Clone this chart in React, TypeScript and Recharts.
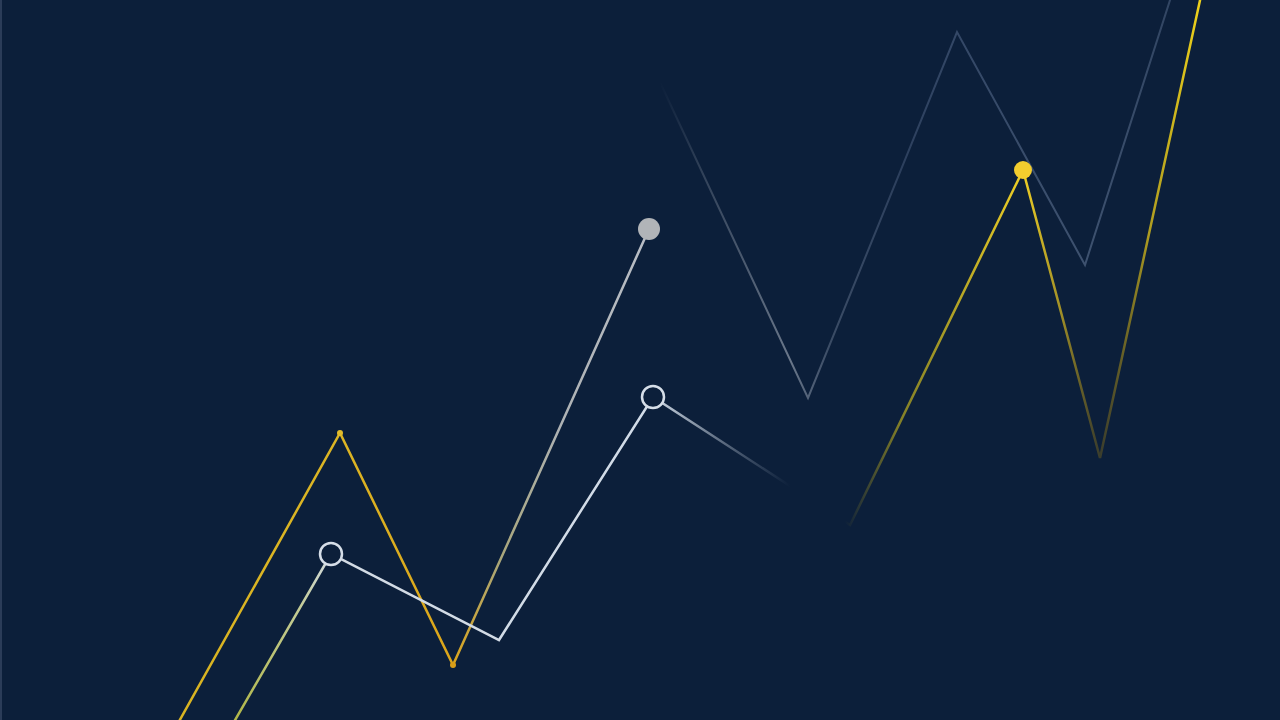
import { LineChart, Line, XAxis, YAxis } from 'recharts';

// x = horizontal position, y = height above the bottom edge (same units as the canvas)
const goldX = [172, 340, 453, 649];
const goldY = [-14, 287, 55, 491];

const silverX = [227, 331, 499, 653, 850, 1023, 1100, 1204];
const silverY = [-14, 166, 80, 323, 195, 550, 262, 738];

const ghostX = [650, 808, 957, 1085, 1180];
const ghostY = [659, 322, 688, 455, 751];

const X_DOMAIN = [0, 1280];
const Y_DOMAIN = [0, 720];

const zip = (xs: number[], ys: number[]) => xs.map((x, i) => ({ x, y: ys[i] }));

const goldData = zip(goldX, goldY);
const silverData = zip(silverX, silverY);
const ghostData = zip(ghostX, ghostY);

const BG = '#0c1f3a';
const W = 1280;

type Stop = [number, string, number?];

function Grad({ id, stops }: { id: string; stops: Stop[] }) {
  return (
    <linearGradient id={id} gradientUnits="userSpaceOnUse" x1={0} y1={0} x2={W} y2={0}>
      {stops.map(([px, color, op], i) => (
        <stop key={i} offset={px / W} stopColor={color} stopOpacity={op ?? 1} />
      ))}
    </linearGradient>
  );
}

const goldStops: Stop[] = [
  [0, '#d6b31f'],
  [340, '#dcb524'],
  [453, '#dca51a'],
  [500, '#a9a67a'],
  [560, '#aeb2b4'],
  [649, '#b9bec6'],
];

const silverStops: Stop[] = [
  [227, '#aeb43e'],
  [300, '#c3cb96'],
  [331, '#d3dbe4'],
  [653, '#d2dce8'],
  [720, '#b4bfcd', 0.5],
  [790, '#9aa6b8', 0],
  [845, '#c8b018', 0],
  [900, '#d2c01c', 0.6],
  [1023, '#f0d026'],
  [1060, '#c9ae22', 0.8],
  [1100, '#806a18', 0.4],
  [1150, '#cdb41c', 0.85],
  [1204, '#f4d61a'],
];

const ghostStops: Stop[] = [
  [660, '#7d8898', 0],
  [705, '#7d8898', 0.35],
  [790, '#8a95a5', 0.75],
  [830, '#5a6a82', 0.6],
  [900, '#3a4d6c', 0.7],
  [957, '#3e5272', 0.8],
  [1085, '#4a5e7c', 0.8],
  [1180, '#3a4e6c', 0.8],
];

// marker styling by point index
const goldDots: Record<number, { r: number; fill: string }> = {
  1: { r: 3, fill: '#e2bb2a' },
  2: { r: 3, fill: '#d99e18' },
  3: { r: 11, fill: '#b1b4b8' },
};

const silverDots: Record<number, { r: number; fill: string; stroke?: string }> = {
  1: { r: 11, fill: BG, stroke: '#d6dee8' },
  3: { r: 11, fill: BG, stroke: '#d6dee8' },
  5: { r: 9, fill: '#f3cd2e' },
};

const makeDot = (spec: Record<number, { r: number; fill: string; stroke?: string }>) =>
  (props: any) => {
    const { cx, cy, index } = props;
    const s = spec[index];
    if (!s) return <g key={`n-${index}`} />;
    return (
      <circle
        key={`d-${index}`}
        cx={cx}
        cy={cy}
        r={s.r}
        fill={s.fill}
        stroke={s.stroke ?? 'none'}
        strokeWidth={s.stroke ? 2.5 : 0}
      />
    );
  };

export default function App() {
  return (
    <div
      style={{
        position: 'fixed',
        top: 0,
        left: 0,
        width: 1280,
        height: 720,
        background: BG,
        boxShadow: 'inset 2px 0 0 #2b3c58',
        overflow: 'hidden',
      }}
    >
      <LineChart width={1280} height={720} margin={{ top: 0, right: 0, bottom: 0, left: 0 }}>
        <defs>
          <Grad id="goldGrad" stops={goldStops} />
          <Grad id="silverGrad" stops={silverStops} />
          <Grad id="ghostGrad" stops={ghostStops} />
        </defs>
        <XAxis type="number" dataKey="x" domain={X_DOMAIN} allowDataOverflow hide />
        <YAxis type="number" domain={Y_DOMAIN} allowDataOverflow hide />
        <Line
          data={ghostData}
          dataKey="y"
          type="linear"
          stroke="url(#ghostGrad)"
          strokeWidth={2}
          dot={false}
          activeDot={false}
          isAnimationActive={false}
        />
        <Line
          data={goldData}
          dataKey="y"
          type="linear"
          stroke="url(#goldGrad)"
          strokeWidth={2.5}
          dot={makeDot(goldDots)}
          activeDot={false}
          isAnimationActive={false}
        />
        <Line
          data={silverData}
          dataKey="y"
          type="linear"
          stroke="url(#silverGrad)"
          strokeWidth={2.5}
          dot={makeDot(silverDots)}
          activeDot={false}
          isAnimationActive={false}
        />
      </LineChart>
    </div>
  );
}
